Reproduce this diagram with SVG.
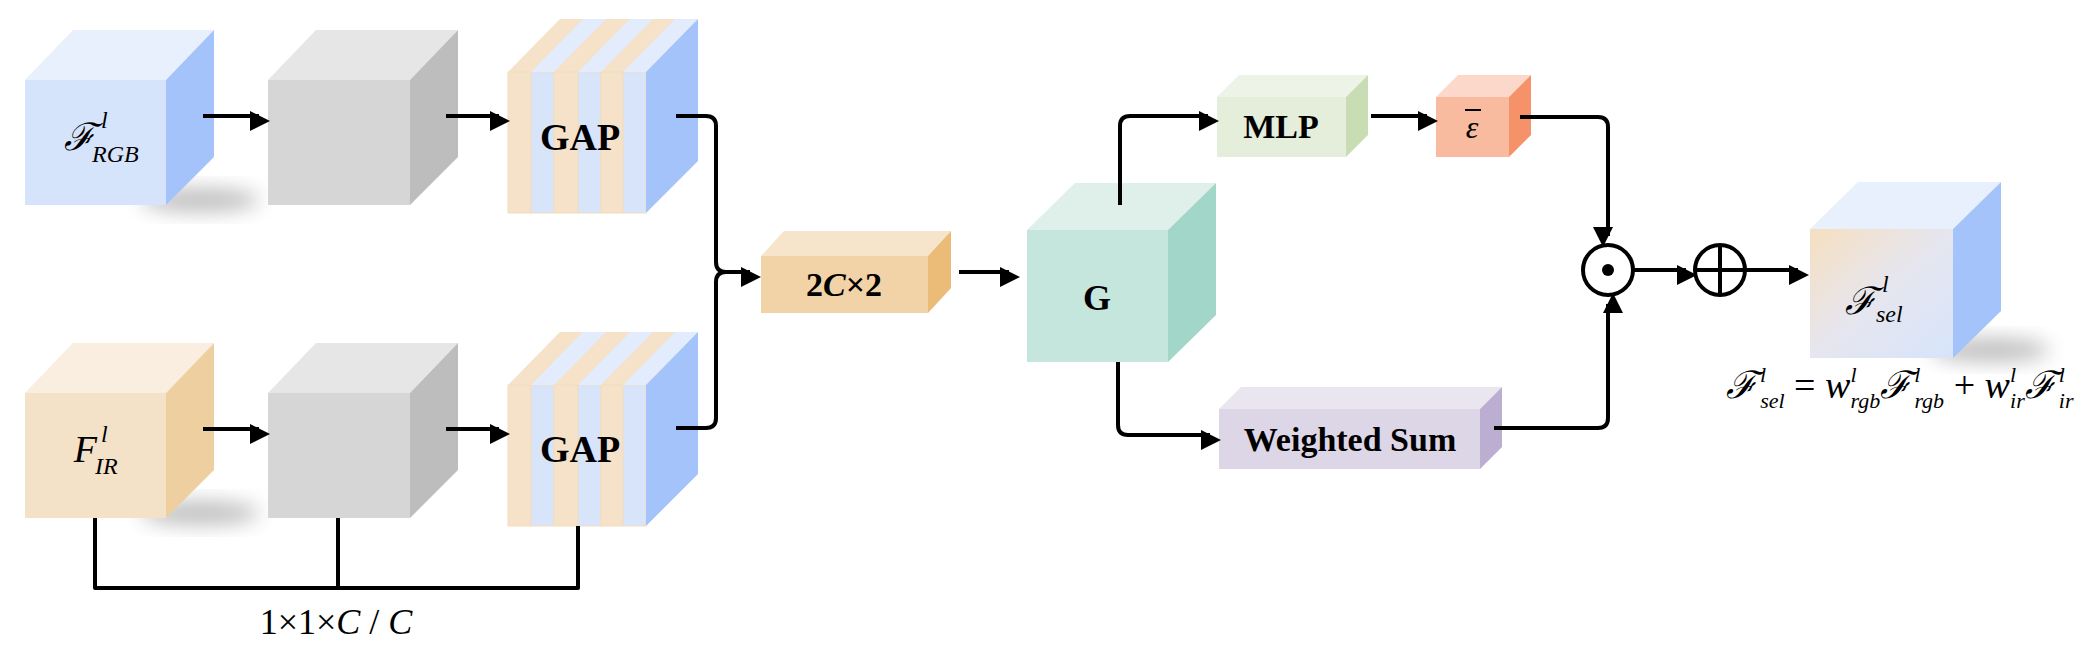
<svg xmlns="http://www.w3.org/2000/svg" width="2086" height="652" viewBox="0 0 2086 652">
<defs>
<marker id="ah" markerWidth="10" markerHeight="10" refX="9" refY="5" orient="auto" markerUnits="userSpaceOnUse" viewBox="0 0 10 10" style="overflow:visible"><path d="M0,0 L10,5 L0,10 Z" fill="#000" transform="scale(2)" /></marker>
<filter id="sh" x="-50%" y="-50%" width="200%" height="200%"><feGaussianBlur stdDeviation="10"/></filter>
<linearGradient id="fg" x1="0" y1="0" x2="1" y2="1"><stop offset="0" stop-color="#f6dfc0"/><stop offset="0.5" stop-color="#e6e6ef"/><stop offset="1" stop-color="#d6e4fb"/></linearGradient>
</defs>
<style>
.c{fill:none;stroke:#000;stroke-width:4;stroke-linejoin:round}
.t{font-family:"Liberation Serif","DejaVu Serif",serif;fill:#000}
.b{font-weight:bold}
.i{font-style:italic}
.shd{fill:#000;opacity:0.25;filter:url(#sh)}
</style>
<rect width="2086" height="652" fill="#fff"/>
<g id="shadows">
<ellipse class="shd" cx="200" cy="200" rx="60" ry="12"/>
<ellipse class="shd" cx="200" cy="513" rx="60" ry="12"/>
<ellipse class="shd" cx="1990" cy="350" rx="60" ry="12"/>
</g>
<g id="n_rgb">
<rect x="25" y="80" width="141" height="125" fill="#d6e4fb"/>
<polygon points="25,80 73,30 214,30 166,80" fill="#e8f0fd"/>
<polygon points="166,80 214,30 214,157 166,205" fill="#a3c3fa"/>
<text class="t i" x="95" y="150" font-size="38" text-anchor="end">ℱ</text>
<text class="t i" x="101" y="128" font-size="24">l</text>
<text class="t i" x="92" y="162" font-size="24">RGB</text>
</g>
<g id="n_gray1">
<rect x="268" y="80" width="142" height="125" fill="#d6d6d6"/>
<polygon points="268,80 316,30 458,30 410,80" fill="#e6e6e6"/>
<polygon points="410,80 458,30 458,157 410,205" fill="#bdbdbd"/>
</g>
<g id="n_gap1">
<polygon points="508,72 560,19 698,19 646,72" fill="#f5e2c8"/>
<g stroke="#f2ddbf" stroke-width="1">
<rect x="508" y="72" width="23" height="141" fill="#f5e2c8"/>
<rect x="531" y="72" width="23" height="141" fill="#d7e4fa"/>
<rect x="554" y="72" width="24" height="141" fill="#f5e2c8"/>
<rect x="578" y="72" width="23" height="141" fill="#d7e4fa"/>
<rect x="601" y="72" width="22" height="141" fill="#f5e2c8"/>
<rect x="623" y="72" width="23" height="141" fill="#d7e4fa"/>
</g>
<polygon points="531,72 583,19 606,19 554,72" fill="#e3ecfc"/>
<polygon points="578,72 630,19 653,19 601,72" fill="#e3ecfc"/>
<polygon points="623,72 675,19 698,19 646,72" fill="#e3ecfc"/>
<polygon points="646,72 698,19 698,161 646,213" fill="#a3c3fa"/>
<text class="t b" x="580" y="150" font-size="38" text-anchor="middle">GAP</text>
</g>
<g id="n_ir">
<rect x="25" y="393" width="141" height="125" fill="#f4e2c8"/>
<polygon points="25,393 73,343 214,343 166,393" fill="#f9eedf"/>
<polygon points="166,393 214,343 214,470 166,518" fill="#eed0a0"/>
<text class="t i" x="97" y="462" font-size="38" text-anchor="end">F</text>
<text class="t i" x="101" y="442" font-size="24">l</text>
<text class="t i" x="95" y="474" font-size="24">IR</text>
</g>
<g id="n_gray2">
<rect x="268" y="393" width="142" height="125" fill="#d6d6d6"/>
<polygon points="268,393 316,343 458,343 410,393" fill="#e6e6e6"/>
<polygon points="410,393 458,343 458,470 410,518" fill="#bdbdbd"/>
</g>
<g id="n_gap2">
<polygon points="508,385 560,332 698,332 646,385" fill="#f5e2c8"/>
<g stroke="#f2ddbf" stroke-width="1">
<rect x="508" y="385" width="23" height="141" fill="#f5e2c8"/>
<rect x="531" y="385" width="23" height="141" fill="#d7e4fa"/>
<rect x="554" y="385" width="24" height="141" fill="#f5e2c8"/>
<rect x="578" y="385" width="23" height="141" fill="#d7e4fa"/>
<rect x="601" y="385" width="22" height="141" fill="#f5e2c8"/>
<rect x="623" y="385" width="23" height="141" fill="#d7e4fa"/>
</g>
<polygon points="531,385 583,332 606,332 554,385" fill="#e3ecfc"/>
<polygon points="578,385 630,332 653,332 601,385" fill="#e3ecfc"/>
<polygon points="623,385 675,332 698,332 646,385" fill="#e3ecfc"/>
<polygon points="646,385 698,332 698,474 646,526" fill="#a3c3fa"/>
<text class="t b" x="580" y="462" font-size="38" text-anchor="middle">GAP</text>
</g>
<g id="n_2c">
<rect x="761" y="256" width="167" height="57" fill="#f2d3a8"/>
<polygon points="761,256 784,231 951,231 928,256" fill="#f7e5cb"/>
<polygon points="928,256 951,231 951,288 928,313" fill="#ebbb78"/>
<text class="t b" x="844" y="296" font-size="34" text-anchor="middle">2<tspan class="i">C</tspan>×2</text>
</g>
<g id="n_g">
<rect x="1027" y="230" width="141" height="132" fill="#c5e6dd"/>
<polygon points="1027,230 1075,183 1216,183 1168,230" fill="#dff0eb"/>
<polygon points="1168,230 1216,183 1216,315 1168,362" fill="#a1d6c8"/>
<text class="t b" x="1097" y="310" font-size="36" text-anchor="middle">G</text>
</g>
<g id="n_mlp">
<rect x="1217" y="97" width="129" height="60" fill="#e4eedb"/>
<polygon points="1217,97 1239,75 1368,75 1346,97" fill="#edf3e7"/>
<polygon points="1346,97 1368,75 1368,135 1346,157" fill="#c9ddb5"/>
<text class="t b" x="1281" y="138" font-size="34" text-anchor="middle">MLP</text>
</g>
<g id="n_eps">
<rect x="1436" y="97" width="73" height="60" fill="#f9bba0"/>
<polygon points="1436,97 1458,75 1531,75 1509,97" fill="#fbd8c9"/>
<polygon points="1509,97 1531,75 1531,135 1509,157" fill="#f6926a"/>
<text class="t i" x="1472" y="138" font-size="32" text-anchor="middle">ε</text>
<line x1="1465" y1="110" x2="1481" y2="110" stroke="#000" stroke-width="2"/>
</g>
<g id="n_ws">
<rect x="1219" y="409" width="261" height="60" fill="#ddd6e6"/>
<polygon points="1219,409 1241,387 1502,387 1480,409" fill="#eae6ef"/>
<polygon points="1480,409 1502,387 1502,447 1480,469" fill="#bcaed0"/>
<text class="t b" x="1350" y="451" font-size="34" text-anchor="middle">Weighted Sum</text>
</g>
<g id="n_odot">
<circle cx="1608" cy="270" r="25" fill="#fff" stroke="#000" stroke-width="4"/>
<circle cx="1608" cy="270" r="6" fill="#000"/>
</g>
<g id="n_oplus">
<circle cx="1720" cy="270" r="25" fill="#fff" stroke="#000" stroke-width="4"/>
<path d="M1695,270 H1745 M1720,245 V295" stroke="#000" stroke-width="4"/>
</g>
<g id="n_sel">
<rect x="1810" y="229" width="143" height="129" fill="url(#fg)"/>
<polygon points="1810,229 1858,182 2001,182 1953,229" fill="#e8f0fd"/>
<polygon points="1953,229 2001,182 2001,311 1953,358" fill="#a3c3fa"/>
<text class="t i" x="1876" y="314" font-size="38" text-anchor="end">ℱ</text>
<text class="t i" x="1882" y="292" font-size="24">l</text>
<text class="t i" x="1876" y="322" font-size="24">sel</text>
</g>
<g id="eq" class="t i">
<text x="1726" y="398" font-size="38">ℱ<tspan font-size="22" dx="3" dy="-16">l</tspan><tspan font-size="22" dx="-6" dy="26">sel</tspan><tspan font-style="normal" dy="-10"> = </tspan>w<tspan font-size="22" dy="-16">l</tspan><tspan font-size="22" dx="-6" dy="26">rgb</tspan><tspan dy="-10">ℱ</tspan><tspan font-size="22" dx="3" dy="-16">l</tspan><tspan font-size="22" dx="-6" dy="26">rgb</tspan><tspan font-style="normal" dy="-10"> + </tspan>w<tspan font-size="22" dy="-16">l</tspan><tspan font-size="22" dx="-6" dy="26">ir</tspan><tspan dy="-10">ℱ</tspan><tspan font-size="22" dx="3" dy="-16">l</tspan><tspan font-size="22" dx="-6" dy="26">ir</tspan></text>
</g>
<text class="t" x="336" y="634" font-size="36" text-anchor="middle">1×1×<tspan class="i">C</tspan> / <tspan class="i">C</tspan></text>
<g id="connectors">
<path class="c" d="M203,116 H259" marker-end="url(#ah)"/>
<path class="c" d="M446,116 H499" marker-end="url(#ah)"/>
<path class="c" d="M203,429 H259" marker-end="url(#ah)"/>
<path class="c" d="M446,429 H499" marker-end="url(#ah)"/>
<path class="c" d="M676,116 H706 Q716,116 716,126 V262 Q716,272 726,272 H750" marker-end="url(#ah)"/>
<path class="c" d="M676,428 H706 Q716,428 716,418 V282 Q716,272 726,272"/>
<path class="c" d="M95,518 V588 H578 V526 M338,518 V588"/>
<path class="c" d="M959,272 H1009" marker-end="url(#ah)"/>
<path class="c" d="M1120,205 V126 Q1120,116 1130,116 H1208" marker-end="url(#ah)"/>
<path class="c" d="M1371,116 H1427" marker-end="url(#ah)"/>
<path class="c" d="M1118,362 V425 Q1118,435 1128,435 H1210" marker-end="url(#ah)"/>
<path class="c" d="M1520,117 H1598 Q1608,117 1608,127 V236" marker-end="url(#ah)"/>
<path class="c" d="M1494,428 H1598 Q1608,428 1608,418 V304" marker-end="url(#ah)"/>
<path class="c" d="M1633,270 H1686" marker-end="url(#ah)"/>
<path class="c" d="M1745,270 H1798" marker-end="url(#ah)"/>
</g>
</svg>
